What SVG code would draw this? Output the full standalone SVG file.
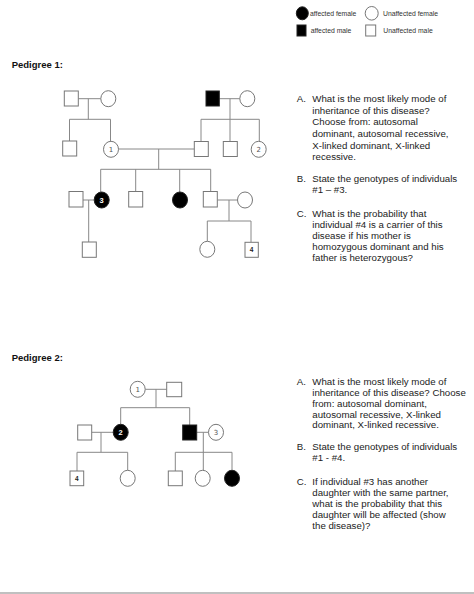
<svg xmlns="http://www.w3.org/2000/svg" width="474" height="594" viewBox="0 0 474 594">
<style>
.n{fill:#fff;stroke:#777;stroke-width:1}
.a{fill:#000;stroke:#222;stroke-width:1}
.c line{stroke:#888;stroke-width:1}
.q{font-family:"Liberation Sans",Arial,sans-serif;font-size:9.7px;fill:#222}
.lg{font-family:"Liberation Sans",Arial,sans-serif;font-size:6.8px;fill:#333}
.h{font-family:"Liberation Sans",Arial,sans-serif;font-size:9.5px;font-weight:bold;fill:#111}
.num{font-family:"DejaVu Sans",sans-serif;font-size:7px;fill:#555;text-anchor:middle}
.numw{font-family:"Liberation Sans",Arial,sans-serif;font-size:7.5px;font-weight:bold;fill:#fff;text-anchor:middle}
.numb{font-family:"Liberation Sans",Arial,sans-serif;font-size:6.5px;font-weight:bold;fill:#222;text-anchor:middle}
</style>
<rect width="474" height="594" fill="#fff"/>
<rect x="0" y="592" width="474" height="2" fill="#c0c0c0"/>

<g id="legend">
<ellipse class="a" cx="302.3" cy="13.3" rx="6" ry="6.5"/>
<text class="lg" x="310" y="16">affected female</text>
<ellipse class="n" cx="371.7" cy="13.3" rx="6.5" ry="6.8"/>
<text class="lg" x="383" y="16">Unaffected female</text>
<rect class="a" x="297" y="25" width="9" height="11"/>
<text class="lg" x="310.7" y="33.3">affected male</text>
<rect class="n" x="365.7" y="25" width="10" height="11"/>
<text class="lg" x="383.3" y="33.3">Unaffected male</text>
</g>

<text class="h" x="11.7" y="68.3">Pedigree 1:</text>
<text class="h" x="11.7" y="361">Pedigree 2:</text>

<g id="connectors" class="c">
<line x1="78.3" y1="98.7" x2="100.8" y2="98.7"/>
<line x1="88.3" y1="98.7" x2="88.3" y2="119.3"/>
<line x1="69.5" y1="119.3" x2="110.5" y2="119.3"/>
<line x1="69.5" y1="119.3" x2="69.5" y2="141"/>
<line x1="110.5" y1="119.3" x2="110.5" y2="141.3"/>
<line x1="219.3" y1="98.7" x2="239.8" y2="98.7"/>
<line x1="230" y1="98.7" x2="230" y2="119.3"/>
<line x1="201" y1="119.3" x2="259.3" y2="119.3"/>
<line x1="201" y1="119.3" x2="201" y2="141.5"/>
<line x1="230" y1="119.3" x2="230" y2="141.5"/>
<line x1="259.3" y1="119.3" x2="259.3" y2="141.3"/>
<line x1="118.5" y1="149" x2="194.3" y2="149"/>
<line x1="158.7" y1="149" x2="158.7" y2="169.3"/>
<line x1="100.7" y1="169.3" x2="210.7" y2="169.3"/>
<line x1="100.7" y1="169.3" x2="100.7" y2="192"/>
<line x1="135.7" y1="169.3" x2="135.7" y2="191.5"/>
<line x1="179.7" y1="169.3" x2="179.7" y2="192"/>
<line x1="210.7" y1="169.3" x2="210.7" y2="191.5"/>
<line x1="83" y1="200" x2="94.2" y2="200"/>
<line x1="88.7" y1="200" x2="88.7" y2="242"/>
<line x1="217.3" y1="200" x2="237.5" y2="200"/>
<line x1="229" y1="200" x2="229" y2="221"/>
<line x1="207.3" y1="221" x2="251" y2="221"/>
<line x1="207.3" y1="221" x2="207.3" y2="241.3"/>
<line x1="251" y1="221" x2="251" y2="242.3"/>
<line x1="145.2" y1="389.3" x2="166.7" y2="389.3"/>
<line x1="156" y1="389.3" x2="156" y2="407.7"/>
<line x1="120.7" y1="407.7" x2="189.7" y2="407.7"/>
<line x1="120.7" y1="407.7" x2="120.7" y2="424.3"/>
<line x1="189.7" y1="407.7" x2="189.7" y2="425"/>
<line x1="91.7" y1="432.3" x2="113.2" y2="432.3"/>
<line x1="101" y1="432.3" x2="101" y2="452.3"/>
<line x1="77" y1="452.3" x2="127.7" y2="452.3"/>
<line x1="77" y1="452.3" x2="77" y2="471"/>
<line x1="127.7" y1="452.3" x2="127.7" y2="470.3"/>
<line x1="196.7" y1="432.3" x2="208.5" y2="432.3"/>
<line x1="203.3" y1="432.3" x2="203.3" y2="470.3"/>
<line x1="175.3" y1="452.3" x2="232" y2="452.3"/>
<line x1="175.3" y1="452.3" x2="175.3" y2="471"/>
<line x1="232" y1="452.3" x2="232" y2="470.3"/>
</g>

<g id="p1-g1-m1"><rect class="n" x="64.3" y="91" width="14" height="15"/></g>
<g id="p1-g1-f1"><ellipse class="n" cx="108.3" cy="98.7" rx="7.5" ry="8"/></g>
<g id="p1-g1-m2"><rect class="a" x="206" y="91" width="13.3" height="15"/></g>
<g id="p1-g1-f2"><ellipse class="n" cx="247.3" cy="98.7" rx="7.5" ry="8"/></g>
<g id="p1-g2-m1"><rect class="n" x="62.7" y="141" width="14" height="15"/></g>
<g id="p1-ind1"><ellipse class="n" cx="111" cy="149.3" rx="7.5" ry="8"/><text class="num" x="111" y="151.8">1</text></g>
<g id="p1-g2-m2"><rect class="n" x="194.3" y="141.5" width="14" height="15"/></g>
<g id="p1-g2-m3"><rect class="n" x="223.3" y="141.5" width="14" height="15"/></g>
<g id="p1-ind2"><ellipse class="n" cx="258.7" cy="149.3" rx="7.5" ry="8"/><text class="num" x="258.7" y="151.8">2</text></g>
<g id="p1-g3-m1"><rect class="n" x="69" y="191.5" width="14" height="15.5"/></g>
<g id="p1-ind3"><ellipse class="a" cx="101.7" cy="200" rx="7.5" ry="8"/><text class="numw" x="101.7" y="202.7">3</text></g>
<g id="p1-g3-m2"><rect class="n" x="128.7" y="191.5" width="14" height="15.5"/></g>
<g id="p1-g3-f2"><ellipse class="a" cx="180" cy="200" rx="7.5" ry="8"/></g>
<g id="p1-g3-m3"><rect class="n" x="203.3" y="191.5" width="14" height="15.5"/></g>
<g id="p1-g3-f3"><ellipse class="n" cx="245" cy="200" rx="7.5" ry="8"/></g>
<g id="p1-g4-m1"><rect class="n" x="82.3" y="242" width="14" height="15.3"/></g>
<g id="p1-g4-f1"><ellipse class="n" cx="207.3" cy="249.3" rx="7.5" ry="8"/></g>
<g id="p1-ind4"><rect class="n" x="245" y="242.3" width="13.3" height="15"/><text class="numb" x="251.6" y="252.2">4</text></g>

<g id="p2-ind1"><ellipse class="n" cx="137.7" cy="389.3" rx="7.5" ry="8"/><text class="num" x="137.7" y="391.8">1</text></g>
<g id="p2-g1-m"><rect class="n" x="166.7" y="382.3" width="15" height="14.4"/></g>
<g id="p2-g2-m1"><rect class="n" x="77.7" y="425" width="14" height="15"/></g>
<g id="p2-ind2"><ellipse class="a" cx="120.7" cy="432.3" rx="7.5" ry="8"/><text class="numw" x="120.7" y="435">2</text></g>
<g id="p2-g2-m2"><rect class="a" x="182.7" y="425" width="14" height="15"/></g>
<g id="p2-ind3"><ellipse class="n" cx="216" cy="432.3" rx="7.5" ry="8"/><text class="num" x="216" y="434.8">3</text></g>
<g id="p2-ind4"><rect class="n" x="70" y="471" width="13.7" height="14.7"/><text class="numb" x="76.8" y="480.7">4</text></g>
<g id="p2-g3-f1"><ellipse class="n" cx="127.7" cy="478.3" rx="7.5" ry="8"/></g>
<g id="p2-g3-m2"><rect class="n" x="168.3" y="471" width="14" height="14.7"/></g>
<g id="p2-g3-f2"><ellipse class="n" cx="202.7" cy="478.3" rx="7.5" ry="8"/></g>
<g id="p2-g3-f3"><ellipse class="a" cx="232" cy="478.3" rx="7.5" ry="8"/></g>

<g class="q">
<text x="296.7" y="102">A.</text>
<text x="312.3" y="102">What is the most likely mode of</text>
<text x="312.3" y="113.7">inheritance of this disease?</text>
<text x="312.3" y="125.3">Choose from: autosomal</text>
<text x="312.3" y="137">dominant, autosomal recessive,</text>
<text x="312.3" y="148.7">X-linked dominant, X-linked</text>
<text x="312.3" y="159.7">recessive.</text>
<text x="296.7" y="182">B.</text>
<text x="312.3" y="182">State the genotypes of individuals</text>
<text x="312.3" y="192.7">#1 – #3.</text>
<text x="296.7" y="216.7">C.</text>
<text x="312.3" y="216.7">What is the probability that</text>
<text x="312.3" y="227.5">individual #4 is a carrier of this</text>
<text x="312.3" y="238.5">disease if his mother is</text>
<text x="312.3" y="249.5">homozygous dominant and his</text>
<text x="312.3" y="260.5">father is heterozygous?</text>

<text x="296.7" y="385">A.</text>
<text x="312.3" y="385">What is the most likely mode of</text>
<text x="312.3" y="396">inheritance of this disease? Choose</text>
<text x="312.3" y="406.7">from: autosomal dominant,</text>
<text x="312.3" y="417.5">autosomal recessive, X-linked</text>
<text x="312.3" y="428.3">dominant, X-linked recessive.</text>
<text x="296.7" y="450">B.</text>
<text x="312.3" y="450">State the genotypes of individuals</text>
<text x="312.3" y="460.7">#1 - #4.</text>
<text x="296.7" y="485">C.</text>
<text x="312.3" y="485">If individual #3 has another</text>
<text x="312.3" y="496">daughter with the same partner,</text>
<text x="312.3" y="506.8">what is the probability that this</text>
<text x="312.3" y="518">daughter will be affected (show</text>
<text x="312.3" y="529">the disease)?</text>
</g>
</svg>
